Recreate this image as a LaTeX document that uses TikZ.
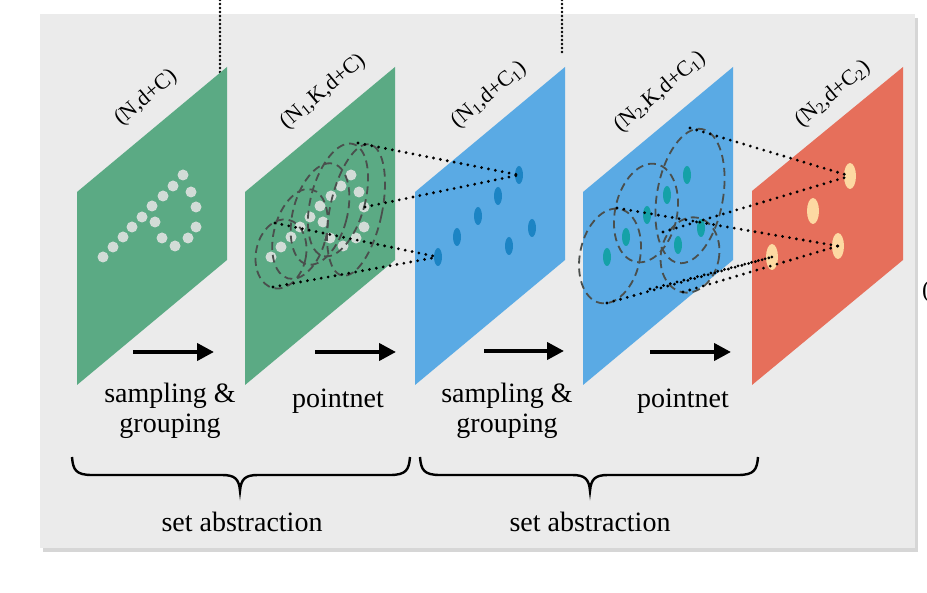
\documentclass[tikz,border=0pt]{standalone}
\usepackage{fontspec}
\setmainfont{Liberation Serif}
\usetikzlibrary{arrows.meta}
\definecolor{bggray}{HTML}{EBEBEB}
\definecolor{shadowgray}{HTML}{D6D6D6}
\definecolor{pgreen}{HTML}{5BAA84}
\definecolor{pblue}{HTML}{5AAAE4}
\definecolor{pred}{HTML}{E66F5B}
\definecolor{dotgray}{HTML}{D2DCD7}
\definecolor{dotblue}{HTML}{1C84C4}
\definecolor{dotteal}{HTML}{15A1A8}
\definecolor{dotpeach}{HTML}{FDD9A2}
\definecolor{ellgray}{HTML}{4A4F4D}
\begin{document}
\begin{tikzpicture}[x=1pt,y=-1pt,
  conn/.style={black, line width=3.1pt, dash pattern=on 0pt off 7pt, line cap=round},
  vdots/.style={black, line width=2.6pt, dash pattern=on 0pt off 4pt, line cap=round},
  region/.style={ellgray, line width=1.8pt, dash pattern=on 8pt off 5pt},
  lbl/.style={rotate=40, font=\fontsize{22}{22}\selectfont, inner sep=0pt},
  captxt/.style={font=\fontsize{28}{30}\selectfont, align=center, inner sep=0pt},
  stepar/.style={black, line width=4pt, -{Triangle[length=17pt,width=17pt]}},
  brc/.style={black, line width=2.4pt}]
\useasboundingbox (0,0) rectangle (927,593);
\fill[white] (0,0) rectangle (927,593);
\fill[shadowgray] (43,18) rectangle (918,552);
\fill[bggray] (40,14) rectangle (915,548);

% vertical dotted lines at the top
\coordinate (t1) at (220,0); \coordinate (t1e) at (220,74);
\coordinate (t2) at (562,0); \coordinate (t2e) at (562,55);
\draw[vdots] (t1) -- (t1e);
\draw[vdots] (t2) -- (t2e);

% panels
\coordinate (P1) at (77,192);
\coordinate (P2) at (245,192);
\coordinate (P3) at (415,192);
\coordinate (P4) at (583,192);
\coordinate (P5) at (752,191);
\fill[pgreen] (P1) -- ++(150,-125) -- ++(0,193) -- ++(-150,125) -- cycle;
\fill[pgreen] (P2) -- ++(150,-125) -- ++(0,193) -- ++(-150,125) -- cycle;
\fill[pblue]  (P3) -- ++(150,-125) -- ++(0,193) -- ++(-150,125) -- cycle;
\fill[pblue]  (P4) -- ++(150,-125) -- ++(0,193) -- ++(-150,125) -- cycle;
\fill[pred]   (P5) -- ++(151,-124) -- ++(0,193) -- ++(-151,125) -- cycle;

% labels
\node[lbl] (l1) at (146,98) {(N,d+C)};
\node[lbl] (l2) at (323,92) {(N\textsubscript{1},K,d+C)};
\node[lbl] (l3) at (489,95) {(N\textsubscript{1},d+C\textsubscript{1})};
\node[lbl] (l4) at (660,92) {(N\textsubscript{2},K,d+C\textsubscript{1})};
\node[lbl] (l5) at (833,94) {(N\textsubscript{2},d+C\textsubscript{2})};

% panel 1 and 2 points
\foreach \dx in {0,168} {
  \foreach \x/\y in {183/175,173/186,163/196,152/206,142/217,132/227,123/237,113/247,103/257,
                     191/192,196/207,155/222,196/227,188/238,175/246,162/238}
    \fill[dotgray] (\x+\dx,\y) circle[radius=5.5pt];
}

% panel 2 regions
\draw[region, rotate around={-12:(281,254)}] (281,254) ellipse[x radius=25pt, y radius=35pt];
\draw[region, rotate around={-15:(300,234)}] (300,234) ellipse[x radius=26pt, y radius=46pt];
\draw[region, rotate around={-15:(320,214)}] (320,214) ellipse[x radius=27pt, y radius=52pt];
\draw[region, rotate around={-15:(338,200)}] (338,200) ellipse[x radius=27pt, y radius=58pt];
\draw[region, rotate around={-12:(356,210)}] (356,210) ellipse[x radius=26pt, y radius=67pt];

% panel 3 points
\foreach \x/\y [count=\i] in {519/175,498/196,478/216,457/237,438/257,509/246,532/228}
  \fill[dotblue] (\x,\y) coordinate (b\i) ellipse[x radius=4pt, y radius=9pt];

% panel 4 points
\foreach \x/\y in {687/175,667/195,647/215,626/237,607/257,678/245,701/228}
  \fill[dotteal] (\x,\y) ellipse[x radius=4pt, y radius=9pt];

% panel 4 regions
\draw[region, rotate around={-10:(690,196)}] (690,196) ellipse[x radius=33pt, y radius=68pt];
\draw[region, rotate around={-12:(646,213)}] (646,213) ellipse[x radius=31pt, y radius=50pt];
\draw[region, rotate around={-12:(610,256)}] (610,256) ellipse[x radius=30pt, y radius=48pt];
\draw[region, rotate around={-12:(690,255)}] (690,255) ellipse[x radius=29pt, y radius=38pt];

% panel 5 points
\foreach \x/\y [count=\i] in {850/176,813/211,838/246,772/257}
  \fill[dotpeach] (\x,\y) coordinate (r\i) ellipse[x radius=6pt, y radius=13pt];

% connectors panel 2 -> panel 3
\coordinate (a1) at (358,143);
\coordinate (a2) at (365,207);
\coordinate (a3) at (275,223);
\coordinate (a4) at (273,287);
\draw[conn] (a1) -- (b1);
\draw[conn] (a2) -- (b1);
\draw[conn] (a3) -- (b5);
\draw[conn] (a4) -- (b5);

% connectors panel 4 -> panel 5
\coordinate (c1) at (690,128);
\coordinate (c2) at (663,232);
\coordinate (c3) at (617,208);
\coordinate (c4) at (683,292);
\coordinate (c5) at (607,303);
\coordinate (c6) at (650,289);
\draw[conn] (c1) -- (r1);
\draw[conn] (c2) -- (r1);
\draw[conn] (c3) -- (r3);
\draw[conn] (c4) -- (r3);
\draw[conn] (c5) -- (r4);
\draw[conn] (c6) -- (r4);

% arrows
\coordinate (s1) at (133,352); \coordinate (e1) at (214,352);
\coordinate (s2) at (315,352); \coordinate (e2) at (396,352);
\coordinate (s3) at (484,351); \coordinate (e3) at (564,351);
\coordinate (s4) at (650,352); \coordinate (e4) at (731,352);
\draw[stepar] (s1) -- (e1);
\draw[stepar] (s2) -- (e2);
\draw[stepar] (s3) -- (e3);
\draw[stepar] (s4) -- (e4);

% captions
\node[captxt] (sg1) at (170,411) {sampling \&\\grouping};
\node[captxt] (pn1) at (338,401) {pointnet};
\node[captxt] (sg2) at (507,411) {sampling \&\\grouping};
\node[captxt] (pn2) at (683,401) {pointnet};

% braces
\draw[brc] (72,457) .. controls (73,470) and (76,475) .. (92,475) -- (222,475)
  .. controls (235,475) and (239,479) .. (240,491)
  .. controls (241,479) and (245,475) .. (258,475) -- (390,475)
  .. controls (406,475) and (409,470) .. (410,457);
\draw[brc] (420,457) .. controls (421,470) and (424,475) .. (440,475) -- (572,475)
  .. controls (585,475) and (589,479) .. (590,491)
  .. controls (591,479) and (595,475) .. (608,475) -- (738,475)
  .. controls (754,475) and (757,470) .. (758,457);

\node[captxt] (sa1) at (242,522) {set abstraction};
\node[captxt] (sa2) at (590,522) {set abstraction};

% cut-off character at the right border
\node[font=\fontsize{24}{24}\selectfont, anchor=west, inner sep=0pt] (cut) at (922,292) {(};
\end{tikzpicture}
\end{document}
